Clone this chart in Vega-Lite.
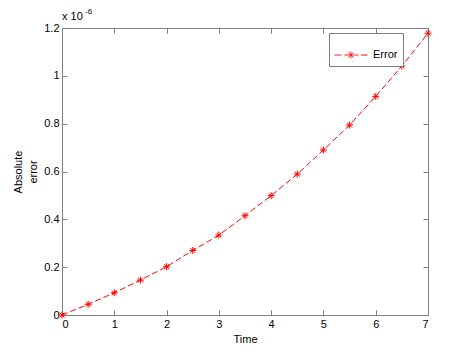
{
  "$schema": "https://vega.github.io/schema/vega-lite/v6.json",
  "width": 366,
  "height": 287,
  "autosize": {"type": "none"},
  "padding": {"left": 62, "top": 28, "right": 46, "bottom": 40},
  "background": "white",
  "config": {
    "font": "Liberation Sans",
    "view": {"stroke": "#7f7f7f", "strokeWidth": 1},
    "axis": {
      "domainColor": "#7f7f7f",
      "tickColor": "#7f7f7f",
      "labelColor": "#000000",
      "labelFontSize": 11,
      "titleFontSize": 11,
      "titleFontWeight": "normal",
      "titleColor": "#000000",
      "grid": false,
      "tickSize": -5
    }
  },
  "data": {
    "values": [
      {"t": 0, "err": 0},
      {"t": 0.5, "err": 4.47e-8},
      {"t": 1, "err": 9.3e-8},
      {"t": 1.5, "err": 1.46e-7},
      {"t": 2, "err": 2.02e-7},
      {"t": 2.5, "err": 2.70e-7},
      {"t": 3, "err": 3.34e-7},
      {"t": 3.5, "err": 4.15e-7},
      {"t": 4, "err": 4.99e-7},
      {"t": 4.5, "err": 5.89e-7},
      {"t": 5, "err": 6.90e-7},
      {"t": 5.5, "err": 7.94e-7},
      {"t": 6, "err": 9.14e-7},
      {"t": 6.5, "err": 1.041e-6},
      {"t": 7, "err": 1.178e-6}
    ]
  },
  "layer": [
    {
      "mark": {"type": "line", "strokeDash": [6, 3], "strokeWidth": 1},
      "encoding": {
        "x": {
          "field": "t", "type": "quantitative",
          "scale": {"domain": [0, 7], "nice": false, "zero": false},
          "axis": {"orient": "bottom", "values": [0, 1, 2, 3, 4, 5, 6, 7], "title": "Time", "labelPadding": 8, "titlePadding": 4}
        },
        "y": {
          "field": "err", "type": "quantitative",
          "scale": {"domain": [0, 1.2e-6], "nice": false},
          "axis": {
            "orient": "left",
            "values": [0, 2e-7, 4e-7, 6e-7, 8e-7, 1e-6, 1.2e-6],
            "labelExpr": "format(datum.value*1e6, '.1~f')",
            "labelPadding": 8,
            "title": ["Absolute", "error"],
            "titlePadding": 5,
            "titleLineHeight": 15
          }
        },
        "color": {
          "datum": "Error", "type": "nominal",
          "scale": {"range": ["#ff0000"]},
          "legend": {
            "title": null,
            "orient": "none",
            "legendX": 267,
            "legendY": 5,
            "symbolType": "M-1,0L-0.58,0M-0.4,0L0.45,0M0.6,0L1,0M0,-0.21L0,0.21M-0.15,-0.15L0.15,0.15M-0.15,0.15L0.15,-0.15",
            "symbolSize": 1089,
            "symbolStrokeWidth": 1,
            "symbolDash": [1, 0],
            "labelFontSize": 11,
            "labelColor": "#000000",
            "labelOffset": 5,
            "strokeColor": "#7f7f7f",
            "fillColor": "white",
            "padding": 5
          }
        }
      }
    },
    {
      "mark": {
        "type": "point",
        "shape": "M-1,0L1,0M0,-1L0,1M-0.7,-0.7L0.7,0.7M-0.7,0.7L0.7,-0.7",
        "filled": false,
        "size": 49,
        "strokeWidth": 1,
        "opacity": 1
      },
      "encoding": {
        "x": {"field": "t", "type": "quantitative", "axis": null},
        "y": {"field": "err", "type": "quantitative", "axis": null},
        "color": {"datum": "Error", "type": "nominal"}
      }
    },
    {
      "mark": {"type": "point", "opacity": 0},
      "encoding": {
        "x": {"field": "t", "type": "quantitative",
              "axis": {"orient": "top", "values": [0, 1, 2, 3, 4, 5, 6, 7], "labels": false, "title": null}},
        "y": {"field": "err", "type": "quantitative",
              "axis": {"orient": "right", "values": [0, 2e-7, 4e-7, 6e-7, 8e-7, 1e-6, 1.2e-6], "labels": false, "title": null}}
      }
    },
    {
      "data": {"values": [{"label": "x 10"}]},
      "mark": {"type": "text", "align": "left", "baseline": "alphabetic", "fontSize": 11, "fontWeight": "normal", "dy": -8, "color": "#000000"},
      "encoding": {
        "text": {"field": "label", "type": "nominal"},
        "x": {"datum": 0, "type": "quantitative", "axis": null},
        "y": {"datum": 1.2e-6, "type": "quantitative", "axis": null}
      }
    },
    {
      "data": {"values": [{"label": "-6"}]},
      "mark": {"type": "text", "align": "left", "baseline": "alphabetic", "fontSize": 8, "fontWeight": "normal", "dx": 23, "dy": -14, "color": "#000000"},
      "encoding": {
        "text": {"field": "label", "type": "nominal"},
        "x": {"datum": 0, "type": "quantitative", "axis": null},
        "y": {"datum": 1.2e-6, "type": "quantitative", "axis": null}
      }
    }
  ],
  "resolve": {"axis": {"x": "independent", "y": "independent"}}
}
